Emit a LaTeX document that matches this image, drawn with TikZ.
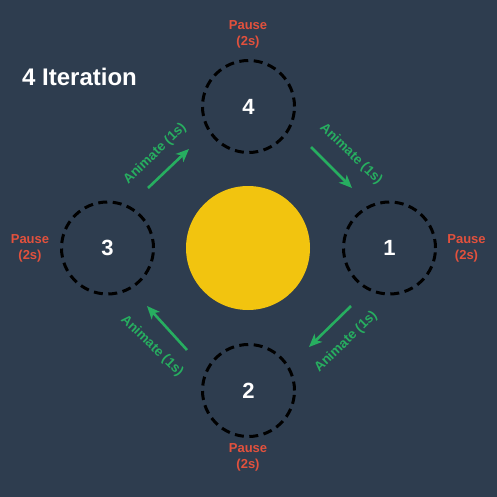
\documentclass[tikz,border=0pt]{standalone}
\usepackage{fontspec}
\setmainfont{Liberation Sans}
\usetikzlibrary{arrows.meta}
\definecolor{bg}{HTML}{2E3D4F}
\definecolor{pausered}{HTML}{E2513D}
\definecolor{anigreen}{HTML}{27AE60}
\definecolor{sunyellow}{HTML}{F2C40F}
\tikzset{
  slot/.style={circle, draw=black, line width=3pt, dash pattern=on 9pt off 5.5pt, minimum size=92pt, inner sep=0pt, text=white, font=\bfseries\fontsize{22}{24}\selectfont},
  pauselbl/.style={text=pausered, font=\bfseries\fontsize{13}{16}\selectfont, align=center, inner sep=0pt},
  anilbl/.style={text=anigreen, font=\bfseries\fontsize{13.5}{15}\selectfont, inner sep=0pt},
  aniarrow/.style={draw=anigreen, line width=2.6pt, -{Stealth[length=13pt,width=11pt,inset=3.5pt]}},
}
\begin{document}
\begin{tikzpicture}[x=1pt,y=-1pt]
\useasboundingbox (0,0) rectangle (497,497);
\fill[bg] (0,0) rectangle (497,497);
\node[circle, fill=sunyellow, minimum size=124pt, inner sep=0pt] (sun) at (248,248) {};
\node[slot] (c4) at (248.5,106.5) {4};
\node[slot] (c1) at (389.5,248) {1};
\node[slot] (c2) at (248.5,390.5) {2};
\node[slot] (c3) at (107.5,248) {3};
\node[text=white, font=\bfseries\fontsize{24}{26}\selectfont, anchor=west, inner sep=0pt] (title) at (22,77) {4 Iteration};
\node[pauselbl] (p4) at (248,34) {Pause\\(2s)};
\node[pauselbl] (p1) at (466.5,248) {Pause\\(2s)};
\node[pauselbl] (p2) at (248,457) {Pause\\(2s)};
\node[pauselbl] (p3) at (30,248) {Pause\\(2s)};
\coordinate (a1s) at (148,188); \coordinate (a1e) at (189,149);
\coordinate (a2s) at (311,147); \coordinate (a2e) at (352,188);
\coordinate (a3s) at (351,306); \coordinate (a3e) at (309,347);
\coordinate (a4s) at (187,350); \coordinate (a4e) at (147,306);
\draw[aniarrow] (a1s) -- (a1e);
\draw[aniarrow] (a2s) -- (a2e);
\draw[aniarrow] (a3s) -- (a3e);
\draw[aniarrow] (a4s) -- (a4e);
\node[anilbl, rotate=44] (l1) at (155,154) {Animate (1s)};
\node[anilbl, rotate=-44] (l2) at (351,154) {Animate (1s)};
\node[anilbl, rotate=44] (l3) at (346,342) {Animate (1s)};
\node[anilbl, rotate=-44] (l4) at (152,346) {Animate (1s)};
\end{tikzpicture}
\end{document}
